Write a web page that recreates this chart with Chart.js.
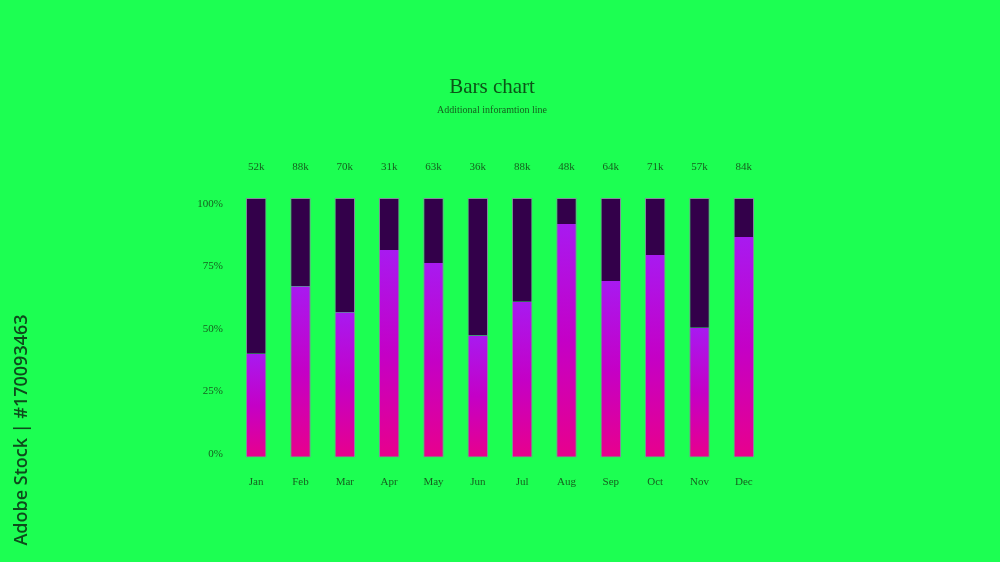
<!DOCTYPE html>
<html>
<head>
<meta charset="utf-8">
<script src="https://cdn.jsdelivr.net/npm/chart.js@4"></script>
<style>
  html, body { margin: 0; padding: 0; background: #1cff52; }
  #wrap { width: 1000px; height: 562px; position: relative; }
</style>
</head>
<body>
<div id="wrap"><canvas id="chart" width="1000" height="562"></canvas></div>
<script>
const months = ["Jan", "Feb", "Mar", "Apr", "May", "Jun", "Jul", "Aug", "Sep", "Oct", "Nov", "Dec"];
const totals = ["52k", "88k", "70k", "31k", "63k", "36k", "88k", "48k", "64k", "71k", "57k", "84k"];
const share = [40, 66, 56, 80, 75, 47, 60, 90, 68, 78, 50, 85];
const remainder = [60, 34, 44, 20, 25, 53, 40, 10, 32, 22, 50, 15];
const percentTicks = [0, 25, 50, 75, 100];

const tickFont = { family: "Liberation Serif", size: 11 };
const tickColor = "#16601f";

// each lower bar fades from pink at its foot to purple at its own top
const lowerFill = (ctx) => {
  const area = ctx.chart.chartArea;
  if (!area || ctx.type !== "data") return "#c000c8";
  const top = ctx.chart.scales.y.getPixelForValue(ctx.raw);
  const g = ctx.chart.ctx.createLinearGradient(0, area.bottom, 0, top);
  g.addColorStop(0, "#e8008c");
  g.addColorStop(0.5, "#c400c6");
  g.addColorStop(1, "#a81af0");
  return g;
};

// heading sits a little left of the plot centre, so it is drawn here
const heading = {
  id: "heading",
  afterDraw(chart) {
    const c = chart.ctx;
    c.save();
    c.textAlign = "center";
    c.textBaseline = "middle";
    c.fillStyle = "#0c5418";
    c.font = "21px 'Liberation Serif'";
    c.fillText("Bars chart", 492, 87);
    c.fillStyle = "#16601f";
    c.font = "10px 'Liberation Serif'";
    c.fillText("Additional inforamtion line", 492, 110);

    // vertical stock id on the left edge
    c.translate(22, 430);
    c.rotate(-Math.PI / 2);
    c.font = "600 18px 'Open Sans'";
    c.fillStyle = "#0e4a1c";
    c.fillText("Adobe Stock | #170093463", 0, 0);
    c.restore();
  }
};

new Chart(document.getElementById("chart"), {
  type: "bar",
  data: {
    labels: months,
    datasets: [
      {
        data: share,
        backgroundColor: lowerFill,
        borderColor: "rgba(150,120,170,0.85)",
        borderWidth: { left: 1, right: 1, bottom: 1, top: 0 },
        borderSkipped: false,
        barPercentage: 0.46,
        categoryPercentage: 1
      },
      {
        data: remainder,
        backgroundColor: "#33004a",
        borderColor: "rgba(150,120,170,0.85)",
        borderWidth: { left: 1, right: 1, top: 1, bottom: 0 },
        borderSkipped: false,
        barPercentage: 0.46,
        categoryPercentage: 1
      }
    ]
  },
  options: {
    responsive: false,
    animation: false,
    layout: { padding: { left: 0, right: 234, top: 0, bottom: 0 } },
    plugins: {
      legend: { display: false },
      tooltip: { enabled: false }
    },
    scales: {
      x: {
        stacked: true,
        grid: { display: false, drawTicks: false },
        border: { display: false },
        ticks: { font: tickFont, color: tickColor, padding: 18 },
        afterFit: (s) => { s.height = 104.5; }
      },
      x2: {
        type: "category",
        labels: totals,
        position: "top",
        grid: { display: false, drawTicks: false },
        border: { display: false },
        ticks: { font: tickFont, color: tickColor, padding: 24 },
        afterFit: (s) => { s.height = 198; }
      },
      y: {
        stacked: true,
        display: false,
        min: 0,
        max: 100
      },
      yl: {
        type: "linear",
        position: "left",
        min: -1.4,
        max: 102.4,
        grid: { display: false, drawTicks: false },
        border: { display: false },
        afterBuildTicks: (s) => { s.ticks = percentTicks.map((v) => ({ value: v })); },
        ticks: {
          font: tickFont,
          color: tickColor,
          padding: 11,
          callback: (v) => v + "%"
        },
        afterFit: (s) => { s.width = 234; }
      }
    }
  },
  plugins: [heading]
});
</script>
</body>
</html>
